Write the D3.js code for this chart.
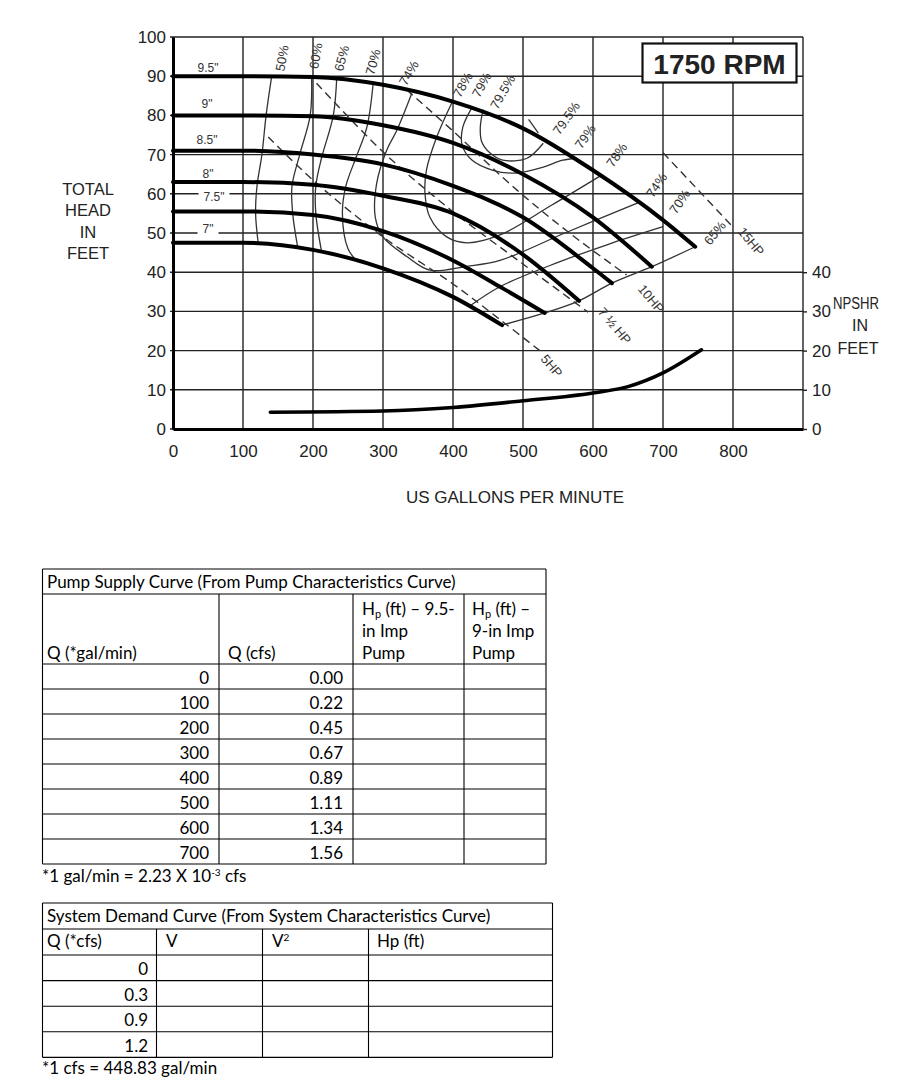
<!DOCTYPE html>
<html><head><meta charset="utf-8">
<script src="https://cdn.jsdelivr.net/npm/d3@7"></script>
<style>body{margin:0;background:#fff}svg{display:block}</style>
</head><body><svg id="c" width="902" height="1088"></svg>
<script>
// ---------- DATA ----------
const gpmTicks = [0,100,200,300,400,500,600,700,800];
const gridGpm = [0,100,200,300,400,500,600,700,800,900];
const headTicks = [0,10,20,30,40,50,60,70,80,90,100];
const npshTicks = [0,10,20,30,40];

const imp95 = [[0,90],[100,90],[200,89.8],[300,87.8],[400,83.5],[500,76.7],[600,66],[700,53.3],[746,46.5]];
const imp90 = [[0,80],[100,80],[200,79.8],[300,77.5],[400,73],[500,65],[600,54],[684,41.4]];
const imp85 = [[0,71],[100,71],[200,70],[300,67.5],[400,62],[500,54],[600,41],[627,37.2]];
const imp80 = [[0,63],[100,63],[200,62.3],[300,59.5],[400,55],[500,44.5],[580,32.7]];
const imp75 = [[0,55.5],[100,55.5],[200,54.6],[300,50.5],[400,43],[470,36],[531,29.6]];
const imp70 = [[0,47.5],[100,47.5],[200,45.7],[300,41],[400,33.7],[470,26.5]];
const impNames = ['9.5"','9"','8.5"','8"','7.5"','7"'];
const impLabelAt = [[50,92.1],[48.6,82.9],[48.6,73.7],[50,65],[58.6,59.2],[50,51]];

const npshr = [[139,4.3],[300,4.6],[400,5.5],[500,7.2],[600,9.2],[650,10.8],[700,14.3],[755,20.2]];

const eff50 = [[141,90],[133,80],[127,70],[120,62],[118,55],[122,47]];
const eff60 = [[198,90],[196,80],[181,70],[170,62],[171,55],[178,46.5]];
const eff65 = [[234,90],[229,80],[212,69],[204,62],[204,55],[212,45.5]];
const eff70L = [[286,88.2],[277,77],[262,69.5],[247,62],[242,55],[250,46],[262,43]];
const eff74 = [[341,85.6],[320,76.3],[305,71],[291,62.7],[289,54],[300,49],[334,44],[367,40.5],[420,41.5],[467,43],[560,50],[664,57.7]];
const eff78 = [[399,83.5],[377,74.6],[362,66],[360,60],[367,54],[391,49],[420,47.5],[467,49.5],[540,57],[610,64.5]];
const eff79 = [[427,82],[414,77],[413,72.5],[427,68.6],[457,66],[491,65.3],[529,66.8],[555,68.5],[572,69]];
const eff795 = [[443,81.5],[439,77],[441,73.3],[453,70.4],[471,68.6],[505,69],[529,72.9]];
const eff70R = [[425,31.5],[467,36.3],[550,42.5],[620,47],[700,51.6]];
const eff65R = [[470,26.5],[531,29.6],[580,32.7],[627,37.2],[684,41.4],[746,46.5]];
const bepTick = [[508,79],[522,75.5]];

const hp5 = [[136,74.5],[200,63.5],[300,49],[400,37],[470,27.5],[524,20]];
const hp75 = [[205,88.2],[300,70.7],[396,56],[496,42.6],[593,29.8]];
const hp10 = [[334,86.5],[400,76],[491,61],[570,49.5],[648,39.3]];
const hp15 = [[700,70.5],[800,51.5]];

const effLabels = [
 ['50%',155.7,94.6,-80],['60%',204,95.2,-80],['65%',241,94.6,-75],['70%',285.7,93.6,-75],['74%',337,90.8,-60],
 ['78%',414,87.8,-60],['79%',441,87.8,-60],['79.5%',471,86,-60],
 ['79.5%',562,79.3,-55],['79%',589,74.6,-55],['78%',634,69.9,-55],['74%',691,62.2,-55],['70%',724,58,-55],['65%',774,50,-50]];
const hpLabels = [['15HP',826,47.8],['10HP',683,33.2],['7 \u00BD HP',631,26.3],['5HP',541,16.1]];

const supplyGpm = ['0','100','200','300','400','500','600','700'];
const supplyCfs = ['0.00','0.22','0.45','0.67','0.89','1.11','1.34','1.56'];
const demandQ = ['0','0.3','0.9','1.2'];

// ---------- CHART ----------
const svg = d3.select('#c');
const x = d3.scaleLinear().domain([0,900]).range([173,803]);
const y = d3.scaleLinear().domain([0,100]).range([429,37]);
const CF = 'Liberation Sans, Arial, sans-serif';

const g = svg.append('g');
// grid
g.selectAll('.vg').data(gridGpm).join('line')
  .attr('x1',d=>x(d)).attr('x2',d=>x(d)).attr('y1',y(0)).attr('y2',y(100))
  .attr('stroke','#222').attr('stroke-width',1.4);
g.selectAll('.hg').data(headTicks).join('line')
  .attr('x1',x(0)-3).attr('x2',x(900)).attr('y1',d=>y(d)).attr('y2',d=>y(d))
  .attr('stroke','#222').attr('stroke-width',1.4);

// axes
const ax = d3.axisLeft(y).tickValues(headTicks).tickSize(0).tickPadding(7).tickSizeOuter(0);
const gl = g.append('g').attr('transform',`translate(${x(0)},0)`).call(ax);
gl.select('.domain').attr('stroke','#000').attr('stroke-width',3);
gl.selectAll('text').attr('font-family',CF).attr('font-size',17).attr('fill','#222');

const bx = d3.axisBottom(x).tickValues(gpmTicks).tickSize(0).tickPadding(16).tickSizeOuter(0);
const gb = g.append('g').attr('transform',`translate(0,${y(0)})`).call(bx);
gb.select('.domain').attr('stroke','#000').attr('stroke-width',3);
gb.selectAll('text').attr('font-family',CF).attr('font-size',17).attr('fill','#222');

const rx = d3.axisRight(y).tickValues(npshTicks).tickSize(4).tickPadding(5).tickSizeOuter(0);
const gr = g.append('g').attr('transform',`translate(${x(900)},0)`).call(rx);
gr.select('.domain').remove();
gr.selectAll('line').attr('stroke','#222').attr('stroke-width',1.4);
gr.selectAll('text').attr('font-family',CF).attr('font-size',17).attr('fill','#222');

// axis titles
const tHead = g.append('text').attr('font-family',CF).attr('font-size',16.5).attr('fill','#222').attr('text-anchor','middle');
['TOTAL','HEAD','IN','FEET'].forEach((t,i)=>tHead.append('tspan').attr('x',88).attr('y',195+i*21.3).text(t));
g.append('text').attr('x',856).attr('y',309).attr('text-anchor','middle').attr('font-family',CF).attr('font-size',16)
  .attr('textLength',46).attr('lengthAdjust','spacingAndGlyphs').attr('fill','#222').text('NPSHR');
g.append('text').attr('x',860).attr('y',331).attr('text-anchor','middle').attr('font-family',CF).attr('font-size',16).attr('fill','#222').text('IN');
g.append('text').attr('x',858).attr('y',354).attr('text-anchor','middle').attr('font-family',CF).attr('font-size',16).attr('fill','#222').text('FEET');
g.append('text').attr('x',515).attr('y',503).attr('text-anchor','middle').attr('font-family',CF)
  .attr('font-size',17).attr('fill','#222').text('US GALLONS PER MINUTE');

const lineM = d3.line().x(d=>x(d[0])).y(d=>y(d[1])).curve(d3.curveMonotoneX);
const lineC = d3.line().x(d=>x(d[0])).y(d=>y(d[1])).curve(d3.curveCatmullRom.alpha(0.5));

// efficiency contours
[eff50,eff60,eff65,eff70L,eff74,eff78,eff79,eff795,eff70R,eff65R,bepTick].forEach(p=>{
  g.append('path').attr('d',lineC(p)).attr('fill','none').attr('stroke','#333').attr('stroke-width',1.3);
});
// HP dashed
[hp5,hp75,hp10,hp15].forEach(p=>{
  g.append('path').attr('d',lineC(p)).attr('fill','none').attr('stroke','#333').attr('stroke-width',1.4)
   .attr('stroke-dasharray','8,5');
});
// impeller curves
[imp95,imp90,imp85,imp80,imp75,imp70].forEach(p=>{
  g.append('path').attr('d',lineM(p)).attr('fill','none').attr('stroke','#000').attr('stroke-width',4).attr('stroke-linecap','round');
});
// NPSHR
g.append('path').attr('d',lineM(npshr)).attr('fill','none').attr('stroke','#000').attr('stroke-width',3.5).attr('stroke-linecap','round');

// impeller labels
impNames.forEach((t,i)=>{
  const [a,b]=impLabelAt[i];
  const tx = g.append('text').attr('x',x(a)).attr('y',y(b)).attr('dy','0.35em').attr('text-anchor','middle')
    .attr('font-family',CF).attr('font-size',12).attr('fill','#333').text(t);
  if(i>=4){
    const bb = tx.node().getBBox();
    g.insert('rect',()=>tx.node()).attr('x',bb.x-5).attr('y',bb.y).attr('width',bb.width+10).attr('height',bb.height).attr('fill','#fff');
  }
});
// efficiency labels
effLabels.forEach(d=>{
  g.append('text').attr('transform',`translate(${x(d[1])},${y(d[2])}) rotate(${d[3]})`).attr('text-anchor','middle').attr('dy','0.35em')
    .attr('font-family',CF).attr('font-size',13).attr('fill','#333').text(d[0]);
});
hpLabels.forEach(d=>{
  g.append('text').attr('transform',`translate(${x(d[1])},${y(d[2])}) rotate(50)`).attr('text-anchor','middle').attr('dy','0.35em')
    .attr('font-family',CF).attr('font-size',13).attr('fill','#333').text(d[0]);
});

// RPM box
g.append('rect').attr('x',642.5).attr('y',43.5).attr('width',154).attr('height',39).attr('fill','#fff').attr('stroke','#111').attr('stroke-width',2.2);
g.append('text').attr('x',719.5).attr('y',73.5).attr('text-anchor','middle').attr('font-family',CF).attr('font-weight','bold')
  .attr('font-size',28).attr('fill','#222').text('1750 RPM');

// ---------- TABLES ----------
const TF = 'Lato, Carlito, Calibri, sans-serif';
const FS = 17;
const tb = svg.append('g').attr('font-family',TF).attr('font-size',FS).attr('fill','#000');
function hl(x1,x2,yy){tb.append('line').attr('x1',x1).attr('x2',x2).attr('y1',yy).attr('y2',yy).attr('stroke','#000').attr('stroke-width',1.1);}
function vl(xx,y1,y2){tb.append('line').attr('x1',xx).attr('x2',xx).attr('y1',y1).attr('y2',y2).attr('stroke','#000').attr('stroke-width',1.1);}

// Table 1
const c1 = [42.5,219,353,464,546];
const t1Top=569, t1Head=594, t1Rows=664, rowH=25;
const t1Bot = t1Rows + supplyGpm.length*rowH;
hl(c1[0],c1[4],t1Top); hl(c1[0],c1[4],t1Head);
supplyGpm.forEach((d,i)=>hl(c1[0],c1[4],t1Rows+i*rowH));
hl(c1[0],c1[4],t1Bot);
vl(c1[0],t1Top,t1Bot); vl(c1[4],t1Top,t1Bot);
c1.slice(1,4).forEach(c=>vl(c,t1Head,t1Bot));
tb.append('text').attr('x',47).attr('y',588).text('Pump Supply Curve (From Pump Characteristics Curve)');
tb.append('text').attr('x',47).attr('y',659).text('Q (*gal/min)');
tb.append('text').attr('x',228).attr('y',659).text('Q (cfs)');
function hp(xx,yy,rest){
  const t=tb.append('text').attr('x',xx).attr('y',yy);
  t.append('tspan').text('H');
  t.append('tspan').attr('dy',3).attr('font-size',11).text('p');
  t.append('tspan').attr('dy',-3).text(rest);
}
hp(362,615,' (ft) \u2013 9.5-');
tb.append('text').attr('x',362).attr('y',637).text('in Imp');
tb.append('text').attr('x',362).attr('y',659).text('Pump');
hp(472,615,' (ft) \u2013');
tb.append('text').attr('x',472).attr('y',637).text('9-in Imp');
tb.append('text').attr('x',472).attr('y',659).text('Pump');
supplyGpm.forEach((d,i)=>{
  tb.append('text').attr('x',209).attr('y',t1Rows+i*rowH+20).attr('text-anchor','end').text(d);
  tb.append('text').attr('x',343).attr('y',t1Rows+i*rowH+20).attr('text-anchor','end').text(supplyCfs[i]);
});
const f1 = tb.append('text').attr('x',42).attr('y',882);
f1.append('tspan').text('*1 gal/min = 2.23 X 10');
f1.append('tspan').attr('dy',-6).attr('font-size',10).text('-3');
f1.append('tspan').attr('dy',6).text(' cfs');

// Table 2
const c2 = [42.5,156.5,262.5,368.5,552.5];
const t2Top=903, t2Head=929, t2Rows=955;
const t2RowH=25.6;
const t2Bot = t2Rows + demandQ.length*t2RowH;
hl(c2[0],c2[4],t2Top); hl(c2[0],c2[4],t2Head);
demandQ.forEach((d,i)=>hl(c2[0],c2[4],t2Rows+i*t2RowH));
hl(c2[0],c2[4],t2Bot);
vl(c2[0],t2Top,t2Bot); vl(c2[4],t2Top,t2Bot);
c2.slice(1,4).forEach(c=>vl(c,t2Head,t2Bot));
tb.append('text').attr('x',47).attr('y',922).text('System Demand Curve (From System Characteristics Curve)');
tb.append('text').attr('x',47).attr('y',947).text('Q (*cfs)');
tb.append('text').attr('x',166).attr('y',947).text('V');
const v2 = tb.append('text').attr('x',272).attr('y',947);
v2.append('tspan').text('V');
v2.append('tspan').attr('dy',-6).attr('font-size',10).text('2');
tb.append('text').attr('x',377).attr('y',947).text('Hp (ft)');
demandQ.forEach((d,i)=>{
  tb.append('text').attr('x',148).attr('y',t2Rows+i*t2RowH+20).attr('text-anchor','end').text(d);
});
tb.append('text').attr('x',42).attr('y',1074).text('*1 cfs = 448.83 gal/min');
</script>
</body></html>
